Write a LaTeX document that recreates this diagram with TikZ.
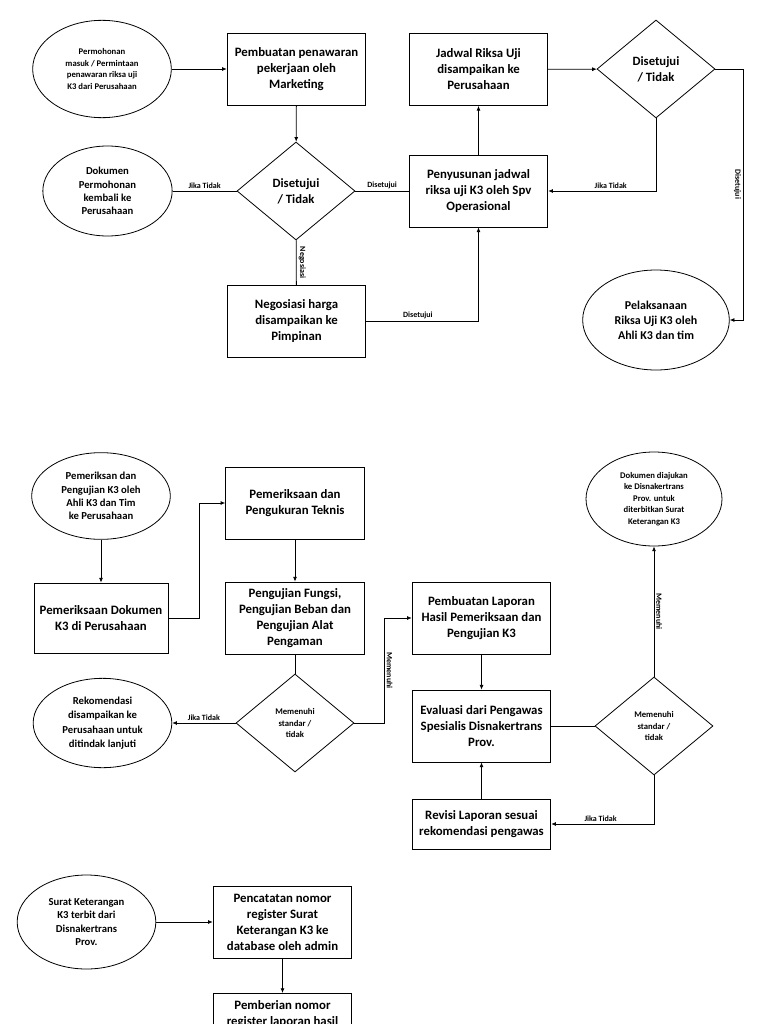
\documentclass[tikz,border=0pt]{standalone}
\usepackage{fontspec}
\setmainfont{Carlito}
\usetikzlibrary{shapes.geometric,arrows.meta}
\tikzset{
	box/.style={draw, rectangle, minimum width=104pt, minimum height=54pt, inner sep=2pt, align=center, font=\bfseries\fontsize{9.6}{12}\selectfont},
	ell/.style={draw, ellipse, inner sep=0pt, align=center, font=\bfseries\fontsize{8}{10}\selectfont},
	dia/.style={draw, diamond, minimum width=88.5pt, minimum height=73.5pt, inner sep=0pt, align=center, font=\bfseries\fontsize{9.5}{12}\selectfont},
	smalltxt/.style={font=\bfseries\fontsize{6.5}{8.7}\selectfont},
	lbl/.style={font=\bfseries\fontsize{6}{7}\selectfont, inner sep=1.5pt},
	arr/.style={-{Latex[length=3.5pt,width=3pt]}},
}
\begin{document}
\begin{tikzpicture}[x=0.75pt, y=-0.75pt, line width=0.6pt]
	\useasboundingbox (0,0) rectangle (768,1024);

	\node[ell, smalltxt, minimum width=104pt, minimum height=73pt] (perm) at (102,69) {Permohonan\\masuk / Permintaan\\penawaran riksa uji\\K3 dari Perusahaan};
	\node[box] (tawar) at (296.5,69) {Pembuatan penawaran\\pekerjaan oleh\\Marketing};
	\node[dia] (setuju1) at (296,191) {Disetujui\\/ Tidak};
	\node[ell, minimum width=97pt, minimum height=67.5pt] (kembali) at (107.5,191) {Dokumen\\Permohonan\\kembali ke\\Perusahaan};
	\node[box] (nego) at (296.5,321.5) {Negosiasi harga\\disampaikan ke\\Pimpinan};
	\node[box] (jadwal) at (478.5,69.5) {Jadwal Riksa Uji\\disampaikan ke\\Perusahaan};
	\node[box] (susun) at (478.5,191) {Penyusunan jadwal\\riksa uji K3 oleh Spv\\Operasional};
	\node[dia] (setuju2) at (656,69) {Disetujui\\/ Tidak};
	\node[ell, font=\bfseries\fontsize{9}{11.3}\selectfont, minimum width=110pt, minimum height=75pt] (laksana) at (656,320) {Pelaksanaan\\Riksa Uji K3 oleh\\Ahli K3 dan tim};

	\draw[arr] (perm) -- (tawar);
	\draw[arr] (tawar) -- (setuju1);
	\draw (setuju1) -- node[lbl, above] {Jika Tidak} (kembali);
	\draw (setuju1) -- node[lbl, above] {Disetujui} (susun);
	\draw (setuju1) -- node[lbl, rotate=-90, anchor=south] {Negosiasi} (nego);
	\draw[arr] (nego) -| node[lbl, above, pos=0.23] {Disetujui} (susun);
	\draw[arr] (susun) -- (jadwal);
	\draw[arr] (jadwal) -- (setuju2);
	\draw[arr] (setuju2.south) |- node[lbl, above, pos=0.71] {Jika Tidak} (susun);
	\draw[arr] (setuju2.east) -- ++(28,0) |- node[lbl, rotate=-90, anchor=north, pos=0.23] {Disetujui} (laksana);

	\node[ell, minimum width=104pt, minimum height=65pt] (periksa) at (101,496) {Pemeriksan dan\\Pengujian K3 oleh\\Ahli K3 dan Tim\\ke Perusahaan};
	\node[box, minimum width=100.5pt, minimum height=52.5pt] (dokumen) at (101,618) {Pemeriksaan Dokumen\\K3 di Perusahaan};
	\node[box] (ukur) at (295,503) {Pemeriksaan dan\\Pengukuran Teknis};
	\node[box] (fungsi) at (295,618) {Pengujian Fungsi,\\Pengujian Beban dan\\Pengujian Alat\\Pengaman};
	\node[dia, smalltxt] (standar1) at (295,723) {Memenuhi\\standar /\\tidak};
	\node[ell, font=\bfseries\fontsize{8}{10.8}\selectfont, minimum width=104pt, minimum height=67pt] (rekom) at (102.5,723) {Rekomendasi\\disampaikan ke\\Perusahaan untuk\\ditindak lanjuti};
	\node[box] (laporan) at (481.5,618) {Pembuatan Laporan\\Hasil Pemeriksaan dan\\Pengujian K3};
	\node[box] (evaluasi) at (481.5,726) {Evaluasi dari Pengawas\\Spesialis Disnakertrans\\Prov.};
	\node[dia, smalltxt] (standar2) at (654,726) {Memenuhi\\standar /\\tidak};
	\node[ell, smalltxt, minimum width=102pt, minimum height=70.5pt] (ajukan) at (654,499) {Dokumen diajukan\\ke Disnakertrans\\Prov. untuk\\diterbitkan Surat\\Keterangan K3};
	\node[box, minimum height=37.5pt] (revisi) at (481.5,824) {Revisi Laporan sesuai\\rekomendasi pengawas};

	\draw[arr] (periksa) -- (dokumen);
	\draw[arr] (dokumen.east) -- ++(31,0) |- (ukur);
	\draw[arr] (ukur) -- (fungsi);
	\draw (fungsi) -- (standar1);
	\draw[arr] (standar1) -- node[lbl, above] {Jika Tidak} (rekom);
	\draw[arr] (standar1.east) -- ++(30,0) |- node[lbl, rotate=-90, anchor=south, pos=0.25] {Memenuhi} (laporan);
	\draw[arr] (laporan) -- (evaluasi);
	\draw (standar2) -- (evaluasi);
	\draw[arr] (standar2) -- node[lbl, rotate=-90, anchor=south] {Memenuhi} (ajukan);
	\draw[arr] (standar2.south) |- node[lbl, above, pos=0.76] {Jika Tidak} (revisi);
	\draw[arr] (revisi) -- (evaluasi);

	\node[ell, minimum width=104pt, minimum height=70.5pt] (terbit) at (86.5,922) {Surat Keterangan\\K3 terbit dari\\Disnakertrans\\Prov.};
	\node[box] (catat) at (282.5,922) {Pencatatan nomor\\register Surat\\Keterangan K3 ke\\database oleh admin};
	\node[box, anchor=north, minimum height=0pt, inner ysep=5pt] (beri) at (282.5,993) {Pemberian nomor\\register laporan hasil};

	\draw[arr] (terbit) -- (catat);
	\draw[arr] (catat) -- (beri);
\end{tikzpicture}
\end{document}
